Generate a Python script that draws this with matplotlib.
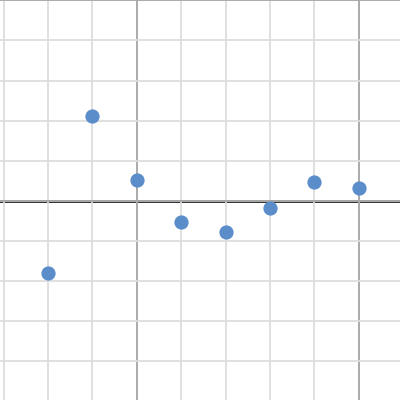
import matplotlib
matplotlib.use("Agg")
import matplotlib.pyplot as plt
from matplotlib.ticker import MultipleLocator

x_vals = [3, 4, 5, 6, 7, 8, 9, 10]
y_vals = [-1.80, 2.11, 0.52, -0.54, -0.78, -0.18, 0.47, 0.31]

fig = plt.figure(figsize=(4, 4), dpi=100)
ax = fig.add_axes([0, 0, 1, 1])
ax.set_xlim(1.92, 10.93)
ax.set_ylim(-4.97, 5.01)

ax.xaxis.set_minor_locator(MultipleLocator(1))
ax.yaxis.set_minor_locator(MultipleLocator(1))
ax.xaxis.set_major_locator(MultipleLocator(5))
ax.yaxis.set_major_locator(MultipleLocator(5))
ax.grid(which="minor", color="#dddddd", linewidth=1.3)
ax.grid(which="major", color="#aaaaaa", linewidth=1.4)
ax.axhline(0, color="#1e1e1e", linewidth=2.0, zorder=1)
ax.tick_params(which="both", length=0, labelbottom=False, labelleft=False)
for s in ax.spines.values():
    s.set_visible(False)

ax.scatter(x_vals, y_vals, s=105, color="#5b8dcb", zorder=3, linewidths=0)

fig.savefig("out.png", dpi=100)
